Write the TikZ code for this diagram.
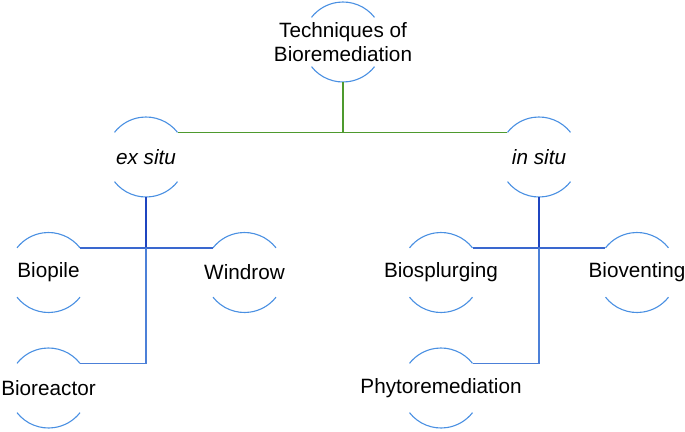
\documentclass[tikz,border=0pt]{standalone}
\usepackage{fontspec}
\setmainfont{Liberation Sans}
\begin{document}
\begin{tikzpicture}[x=1pt,y=-1pt,
  bub/.style={circle,minimum size=80pt,inner sep=0pt,outer sep=0pt},
  txt/.style={align=center,inner sep=0pt,font=\fontsize{20.7}{24}\selectfont},
  arcline/.style={draw=arccol,line width=1.1pt},
  gline/.style={draw=gcol,line width=1.4pt},
  dline/.style={draw=dbcol,line width=1.5pt},
  bline/.style={draw=bcol,line width=1.4pt},
  lline/.style={draw=lbcol,line width=1.4pt}]
\definecolor{arccol}{HTML}{4A90E2}
\definecolor{gcol}{HTML}{4E9A2E}
\definecolor{dbcol}{HTML}{1F45C0}
\definecolor{bcol}{HTML}{3A68CF}
\definecolor{lbcol}{HTML}{4C80D8}
\useasboundingbox (0,0) rectangle (685,431);
\node[bub,label={[txt]center:Techniques of\\Bioremediation}] (top) at (343,42) {};
\node[bub,label={[txt]center:\itshape ex situ}] (ex) at (146,157) {};
\node[bub,label={[txt]center:\itshape in situ}] (in) at (539,157) {};
\node[bub,label={[txt]center:Biopile}] (biopile) at (48.5,272.5) {};
\node[bub,label={[txt]center:Windrow}] (windrow) at (244.5,272.5) {};
\node[bub,label={[txt]center:Bioreactor}] (bioreactor) at (48.5,388) {};
\node[bub,label={[txt]center:Biosplurging}] (biosp) at (441,272.5) {};
\node[bub,label={[txt]center:Bioventing}] (biovent) at (637,272.5) {};
\node[bub,label={[txt]center:Phytoremediation}] (phyto) at (441,388) {};
\foreach \n in {top,ex,in,biopile,windrow,bioreactor,biosp,biovent,phyto}{
  \draw[arcline] (\n.38) arc[start angle=38,end angle=142,radius=40pt];
  \draw[arcline] (\n.218) arc[start angle=218,end angle=322,radius=40pt];
}
% top level
\draw[gline] (top.south) -- (top.south |- ex.38);
\draw[gline] (ex.38) -- (in.142);
% ex situ
\coordinate (jx) at (ex.south |- biopile.38);
\draw[dline] (ex.south) -- (jx);
\draw[bline] (biopile.38) -- (windrow.142);
\draw[lline] (jx) -- (jx |- bioreactor.38) -- (bioreactor.38);
% in situ
\coordinate (ji) at (in.south |- biosp.38);
\draw[dline] (in.south) -- (ji);
\draw[bline] (biosp.38) -- (biovent.142);
\draw[lline] (ji) -- (ji |- phyto.38) -- (phyto.38);
\end{tikzpicture}
\end{document}
